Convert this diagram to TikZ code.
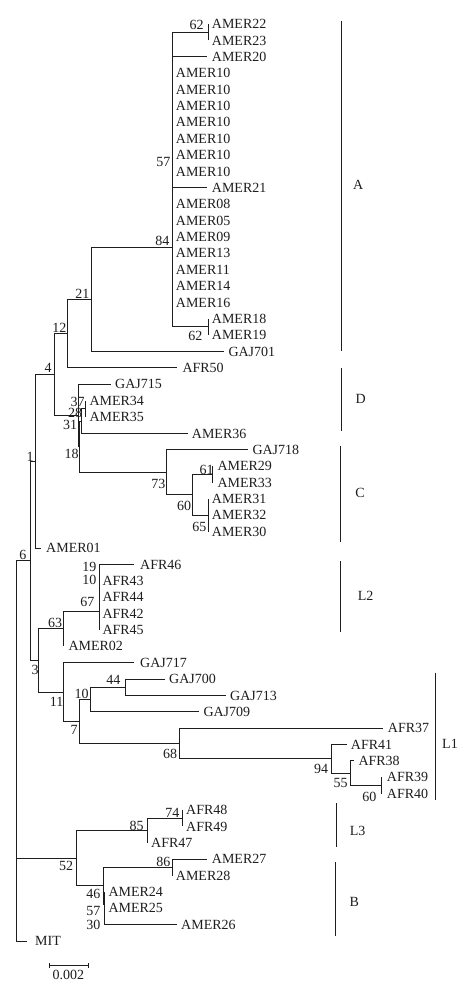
\documentclass[tikz,border=0pt]{standalone}
\usepackage{fontspec}
\setmainfont{Liberation Serif}
\definecolor{ink}{HTML}{1E1E1E}
\newcommand\lf[5]{%
  \coordinate (t#1) at (#2,{24+16.375*#3});
  \node[leaf] (#1) at (#4,{24+16.375*#3}) {#5};}
\begin{document}
\begin{tikzpicture}[x=1pt,y=-1pt,
  br/.style={draw=ink,line width=1pt},
  leaf/.style={anchor=west,inner sep=0pt,text height=9.3pt,text depth=0pt,font=\fontsize{14}{16}\selectfont,text=ink},
  boot/.style={anchor=center,inner sep=0pt,text height=9.5pt,text depth=0pt,font=\fontsize{14}{16}\selectfont,text=ink},
  cladebar/.style={draw=ink,line width=1pt},
  cladelab/.style={anchor=center,inner sep=0pt,text height=9.3pt,text depth=0pt,font=\fontsize{14}{16}\selectfont,text=ink}]
\fill[white] (0,0) rectangle (474,1001);
\useasboundingbox (0,0) rectangle (474,1001);

% ---------- leaves ----------
\lf{AMER22}{208}{0}{211.7}{AMER22}
\lf{AMER23}{208}{1}{211.7}{AMER23}
\lf{AMER20}{207}{2}{211.7}{AMER20}
\lf{AMER10a}{172.3}{3}{175.7}{AMER10}
\lf{AMER10b}{172.3}{4}{175.7}{AMER10}
\lf{AMER10c}{172.3}{5}{175.7}{AMER10}
\lf{AMER10d}{172.3}{6}{175.7}{AMER10}
\lf{AMER10e}{172.3}{7}{175.7}{AMER10}
\lf{AMER10f}{172.3}{8}{175.7}{AMER10}
\lf{AMER10g}{172.3}{9}{175.7}{AMER10}
\lf{AMER21}{207}{10}{211.7}{AMER21}
\lf{AMER08}{172.3}{11}{175.7}{AMER08}
\lf{AMER05}{172.3}{12}{175.7}{AMER05}
\lf{AMER09}{172.3}{13}{175.7}{AMER09}
\lf{AMER13}{172.3}{14}{175.7}{AMER13}
\lf{AMER11}{172.3}{15}{175.7}{AMER11}
\lf{AMER14}{172.3}{16}{175.7}{AMER14}
\lf{AMER16}{172.3}{17}{175.7}{AMER16}
\lf{AMER18}{208}{18}{211.7}{AMER18}
\lf{AMER19}{208}{19}{211.7}{AMER19}
\lf{GAJ701}{224}{20}{228.3}{GAJ701}
\lf{AFR50}{177}{21}{182.3}{AFR50}
\lf{GAJ715}{111}{22}{115}{GAJ715}
\lf{AMER34}{85.7}{23}{89.3}{AMER34}
\lf{AMER35}{85.7}{24}{89.3}{AMER35}
\lf{AMER36}{188.3}{25}{191.7}{AMER36}
\lf{GAJ718}{248.3}{26}{252.3}{GAJ718}
\lf{AMER29}{212.7}{27}{217.3}{AMER29}
\lf{AMER33}{212.7}{28}{217.3}{AMER33}
\lf{AMER31}{208}{29}{211.7}{AMER31}
\lf{AMER32}{208}{30}{211.7}{AMER32}
\lf{AMER30}{208}{31}{211.7}{AMER30}
\lf{AMER01}{41}{32}{46}{AMER01}
\lf{AFR46}{134}{33}{140}{AFR46}
\lf{AFR43}{99}{34}{102.3}{AFR43}
\lf{AFR44}{99}{35}{102.3}{AFR44}
\lf{AFR42}{99}{36}{102.3}{AFR42}
\lf{AFR45}{99}{37}{102.3}{AFR45}
\lf{AMER02}{63.3}{38}{68.3}{AMER02}
\lf{GAJ717}{134}{39}{140}{GAJ717}
\lf{GAJ700}{165}{40}{169}{GAJ700}
\lf{GAJ713}{226}{41}{230}{GAJ713}
\lf{GAJ709}{199.3}{42}{203.3}{GAJ709}
\lf{AFR37}{383.3}{43}{387.7}{AFR37}
\lf{AFR41}{346.7}{44}{350.7}{AFR41}
\lf{AFR38}{353.5}{45}{358.3}{AFR38}
\lf{AFR39}{381.7}{46}{386.7}{AFR39}
\lf{AFR40}{381.7}{47}{386.7}{AFR40}
\lf{AFR48}{182}{48}{186}{AFR48}
\lf{AFR49}{182}{49}{186}{AFR49}
\lf{AFR47}{147.7}{50}{151}{AFR47}
\lf{AMER27}{206.7}{51}{211.7}{AMER27}
\lf{AMER28}{172.3}{52}{175.7}{AMER28}
\lf{AMER24}{104.3}{53}{108.3}{AMER24}
\lf{AMER25}{104.8}{54}{108.3}{AMER25}
\lf{AMER26}{176.5}{55}{181}{AMER26}
\lf{MIT}{27}{56}{35}{MIT}

% ---------- internal nodes ----------
\coordinate (root) at (16,750);
\coordinate (n6) at (30.5,560.9);
\coordinate (n1) at (35,461.3);
\coordinate (n4) at (54.3,374.5);
\coordinate (n12) at (67.7,333.6);
\coordinate (n21) at (91.7,299.3);
\coordinate (n84) at (172.3,247.1);
\coordinate (n57) at (172.3,167.3);
\coordinate (n62a) at (208,32.2);
\coordinate (n62b) at (208,326.9);
\coordinate (n31) at (78.3,415.5);
\coordinate (n18) at (79.5,446.7);
\coordinate (n28) at (81.7,421.1);
\coordinate (n37) at (85.7,408.8);
\coordinate (n73) at (166.7,472.3);
\coordinate (n60) at (192.7,494.8);
\coordinate (n61) at (212.7,474.3);
\coordinate (n65) at (208,515.25);
\coordinate (n3) at (38.3,660.4);
\coordinate (n63) at (63.3,628.8);
\coordinate (n67) at (99,611.4);
\coordinate (n10) at (99,593.0);
\coordinate (n19) at (99,572.6);
\coordinate (n11) at (63.3,692.1);
\coordinate (n7) at (79,721.5);
\coordinate (n10b) at (90,699.5);
\coordinate (n44) at (125,687.2);
\coordinate (n68) at (179,743.5);
\coordinate (n94) at (331.7,758.8);
\coordinate (n55) at (350.7,773.2);
\coordinate (n60c) at (381.7,785.4);
\coordinate (n52) at (76.7,858.1);
\coordinate (n85) at (147.7,830.5);
\coordinate (n74) at (182,818.2);
\coordinate (n46) at (103.3,885.7);
\coordinate (n86) at (172.3,867.3);
\coordinate (n57b) at (104.3,904.1);
\coordinate (n30) at (104.8,916.4);

% ---------- branches ----------
\draw[br] (root) |- (n6);
\draw[br] (root) |- (n52);
\draw[br] (root) |- (tMIT);
\draw[br] (n6) |- (n1);
\draw[br] (n6) |- (n3);
\draw[br] (n1) |- (n4);
\draw[br] (n1) |- (tAMER01);
\draw[br] (n4) |- (n12);
\draw[br] (n4) |- (n31);
\draw[br] (n12) |- (n21);
\draw[br] (n12) |- (tAFR50);
\draw[br] (n21) |- (n84);
\draw[br] (n21) |- (tGAJ701);
\draw[br] (n84) |- (n57);
\draw[br] (n84) |- (n62b);
\draw[br] (n57) |- (n62a);
\draw[br] (n57) |- (tAMER20);
\draw[br] (n57) |- (tAMER21);
\draw[br] (n57) |- (tAMER16);
\draw[br] (n62a) |- (tAMER22);
\draw[br] (n62a) |- (tAMER23);
\draw[br] (n62b) |- (tAMER18);
\draw[br] (n62b) |- (tAMER19);
\draw[br] (n31) |- (tGAJ715);
\draw[br] (n31) |- (n18);
\draw[br] (n18) |- (n28);
\draw[br] (n18) |- (n73);
\draw[br] (n28) |- (n37);
\draw[br] (n28) |- (tAMER36);
\draw[br] (n37) |- (tAMER34);
\draw[br] (n37) |- (tAMER35);
\draw[br] (n73) |- (tGAJ718);
\draw[br] (n73) |- (n60);
\draw[br] (n60) |- (n61);
\draw[br] (n60) |- (n65);
\draw[br] (n61) |- (tAMER29);
\draw[br] (n61) |- (tAMER33);
\draw[br] (n65) |- (tAMER31);
\draw[br] (n65) |- (tAMER30);
\draw[br] (n3) |- (n63);
\draw[br] (n3) |- (n11);
\draw[br] (n63) |- (n67);
\draw[br] (n63) |- (tAMER02);
\draw[br] (n67) |- (n10);
\draw[br] (n67) |- (tAFR45);
\draw[br] (n10) |- (n19);
\draw[br] (n10) |- (tAFR42);
\draw[br] (n19) |- (tAFR46);
\draw[br] (n19) |- (tAFR43);
\draw[br] (n11) |- (tGAJ717);
\draw[br] (n11) |- (n7);
\draw[br] (n7) |- (n10b);
\draw[br] (n7) |- (n68);
\draw[br] (n10b) |- (n44);
\draw[br] (n10b) |- (tGAJ709);
\draw[br] (n44) |- (tGAJ700);
\draw[br] (n44) |- (tGAJ713);
\draw[br] (n68) |- (tAFR37);
\draw[br] (n68) |- (n94);
\draw[br] (n94) |- (tAFR41);
\draw[br] (n94) |- (n55);
\draw[br] (n55) |- (tAFR38);
\draw[br] (n55) |- (n60c);
\draw[br] (n60c) |- (tAFR39);
\draw[br] (n60c) |- (tAFR40);
\draw[br] (n52) |- (n85);
\draw[br] (n52) |- (n46);
\draw[br] (n85) |- (n74);
\draw[br] (n85) |- (tAFR47);
\draw[br] (n74) |- (tAFR48);
\draw[br] (n74) |- (tAFR49);
\draw[br] (n46) |- (n86);
\draw[br] (n46) |- (n57b);
\draw[br] (n86) |- (tAMER27);
\draw[br] (n86) |- (tAMER28);
\draw[br] (n57b) |- (tAMER24);
\draw[br] (n57b) |- (n30);
\draw[br] (n30) |- (tAMER25);
\draw[br] (n30) |- (tAMER26);

% ---------- bootstrap values ----------
\node[boot] (b62a) at (196.7,25) {62};
\node[boot] (b57) at (163.3,161.7) {57};
\node[boot] (b84) at (162.3,241) {84};
\node[boot] (b62b) at (195.3,336) {62};
\node[boot] (b21) at (82.3,293.3) {21};
\node[boot] (b12) at (59.3,328) {12};
\node[boot] (b4) at (48,368) {4};
\node[boot] (b37) at (77.7,401.3) {37};
\node[boot] (b28) at (75,413.2) {28};
\node[boot] (b31) at (70,424.8) {31};
\node[boot] (b18) at (71.7,453.3) {18};
\node[boot] (b73) at (158.3,483.3) {73};
\node[boot] (b61) at (206.7,469.3) {61};
\node[boot] (b60) at (184,505.7) {60};
\node[boot] (b65) at (199.3,526.7) {65};
\node[boot] (b1) at (30,456.7) {1};
\node[boot] (b6) at (23,555) {6};
\node[boot] (b19) at (89.3,566.5) {19};
\node[boot] (b10) at (89.3,580) {10};
\node[boot] (b67) at (87.3,601.7) {67};
\node[boot] (b63) at (55,622.5) {63};
\node[boot] (b3) at (35,669.3) {3};
\node[boot] (b11) at (56.7,701.7) {11};
\node[boot] (b44) at (113.3,680) {44};
\node[boot] (b10b) at (81.7,693.3) {10};
\node[boot] (b7) at (74,730) {7};
\node[boot] (b68) at (170,753.3) {68};
\node[boot] (b94) at (321,768.3) {94};
\node[boot] (b55) at (340.7,782.7) {55};
\node[boot] (b60c) at (369.3,796.7) {60};
\node[boot] (b74) at (172.3,812.3) {74};
\node[boot] (b85) at (136.7,825.7) {85};
\node[boot] (b52) at (66,865.7) {52};
\node[boot] (b86) at (163.3,861.7) {86};
\node[boot] (b46) at (93.3,893.3) {46};
\node[boot] (b57b) at (93.3,911) {57};
\node[boot] (b30) at (93.3,924.3) {30};

% ---------- clade bars ----------
\coordinate (Atop) at (341,21);   \coordinate (Abot) at (341,350.7);
\coordinate (Dtop) at (341,367.7); \coordinate (Dbot) at (341,431);
\coordinate (Ctop) at (340,445.7); \coordinate (Cbot) at (340,542.3);
\coordinate (L2top) at (340.7,561); \coordinate (L2bot) at (340.7,631.7);
\coordinate (L1top) at (435,672.7); \coordinate (L1bot) at (435,800);
\coordinate (L3top) at (336,803.3); \coordinate (L3bot) at (336,846.7);
\coordinate (Btop) at (335.7,862.3); \coordinate (Bbot) at (335.7,935.7);
\draw[cladebar] (Atop) -- (Abot);
\draw[cladebar] (Dtop) -- (Dbot);
\draw[cladebar] (Ctop) -- (Cbot);
\draw[cladebar] (L2top) -- (L2bot);
\draw[cladebar] (L1top) -- (L1bot);
\draw[cladebar] (L3top) -- (L3bot);
\draw[cladebar] (Btop) -- (Bbot);
\node[cladelab] (labA) at (358.3,185) {A};
\node[cladelab] (labD) at (360.7,399) {D};
\node[cladelab] (labC) at (360,493.3) {C};
\node[cladelab] (labL2) at (365.7,596) {L2};
\node[cladelab] (labL1) at (450,744) {L1};
\node[cladelab] (labL3) at (357.7,831) {L3};
\node[cladelab] (labB) at (354.3,901.7) {B};

% ---------- scale bar ----------
\coordinate (sbL) at (49.3,965.7);
\coordinate (sbR) at (88.3,965.7);
\draw[br] (sbL) -- (sbR);
\draw[br] ([yshift=-2.5pt]sbL) -- ([yshift=2.5pt]sbL);
\draw[br] ([yshift=-2.5pt]sbR) -- ([yshift=2.5pt]sbR);
\node[boot] (sblab) at (68.3,975) {0.002};
\end{tikzpicture}
\end{document}
